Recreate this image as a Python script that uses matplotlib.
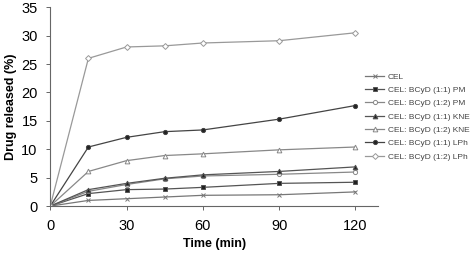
"""Cumulative drug release profiles of CEL and its BCyD systems."""

import matplotlib
matplotlib.use("Agg")
import matplotlib.pyplot as plt

plt.rcParams.update({"font.family": ["Liberation Sans", "DejaVu Sans"], "font.size": 10})

time_min = [0, 15, 30, 45, 60, 90, 120]
cel = [0, 1.0, 1.3, 1.6, 1.9, 2.0, 2.5]
pm_11 = [0, 2.2, 2.9, 3.0, 3.3, 4.0, 4.2]
pm_12 = [0, 2.6, 3.8, 4.8, 5.3, 5.6, 6.0]
kne_11 = [0, 2.9, 4.0, 4.9, 5.5, 6.1, 6.9]
kne_12 = [0, 6.1, 8.0, 8.9, 9.2, 9.9, 10.4]
lph_11 = [0, 10.4, 12.1, 13.1, 13.4, 15.3, 17.7]
lph_12 = [0, 26.0, 28.0, 28.2, 28.7, 29.1, 30.5]

labels = [
    "CEL",
    "CEL: BCyD (1:1) PM",
    "CEL: BCyD (1:2) PM",
    "CEL: BCyD (1:1) KNE",
    "CEL: BCyD (1:2) KNE",
    "CEL: BCyD (1:1) LPh",
    "CEL: BCyD (1:2) LPh",
]
series = [cel, pm_11, pm_12, kne_11, kne_12, lph_11, lph_12]
styles = [
    dict(marker="x", color="#777777", mfc="#777777", ms=2.6),
    dict(marker="s", color="#555555", mfc="#222222", ms=3),
    dict(marker="o", color="#888888", mfc="white", ms=3),
    dict(marker="^", color="#555555", mfc="#222222", ms=3.4),
    dict(marker="^", color="#888888", mfc="white", ms=3.4),
    dict(marker="o", color="#444444", mfc="#222222", ms=3),
    dict(marker="D", color="#999999", mfc="white", ms=3),
]

fig = plt.figure(figsize=(4.74, 2.57), dpi=100)
ax = fig.add_axes([0.106, 0.198, 0.692, 0.774])
for y, lab, st in zip(series, labels, styles):
    ax.plot(time_min, y, label=lab, linewidth=0.9, markeredgewidth=0.7,
            markeredgecolor=st["color"], **st)

ax.set_xlim(0, 129)
ax.set_ylim(0, 35)
ax.set_xticks([0, 30, 60, 90, 120])
ax.set_yticks(range(0, 36, 5))
ax.spines["top"].set_visible(False)
ax.spines["right"].set_visible(False)
for s in ("left", "bottom"):
    ax.spines[s].set_color("#666666")
    ax.spines[s].set_linewidth(0.8)
ax.tick_params(length=3, width=0.7, color="#666666", labelsize=10.5, pad=6)
ax.set_xlabel("Time (min)", fontweight="bold", fontsize=9, labelpad=4)
ax.set_ylabel("Drug released (%)", fontweight="bold", fontsize=9, labelpad=3)

ax.legend(loc="upper left", bbox_to_anchor=(0.764, 0.73), bbox_transform=fig.transFigure,
          frameon=False, fontsize=6, handlelength=2.2, handletextpad=0.5,
          labelspacing=0.66, labelcolor="#444444", borderaxespad=0)

fig.savefig("out.png", dpi=100)
